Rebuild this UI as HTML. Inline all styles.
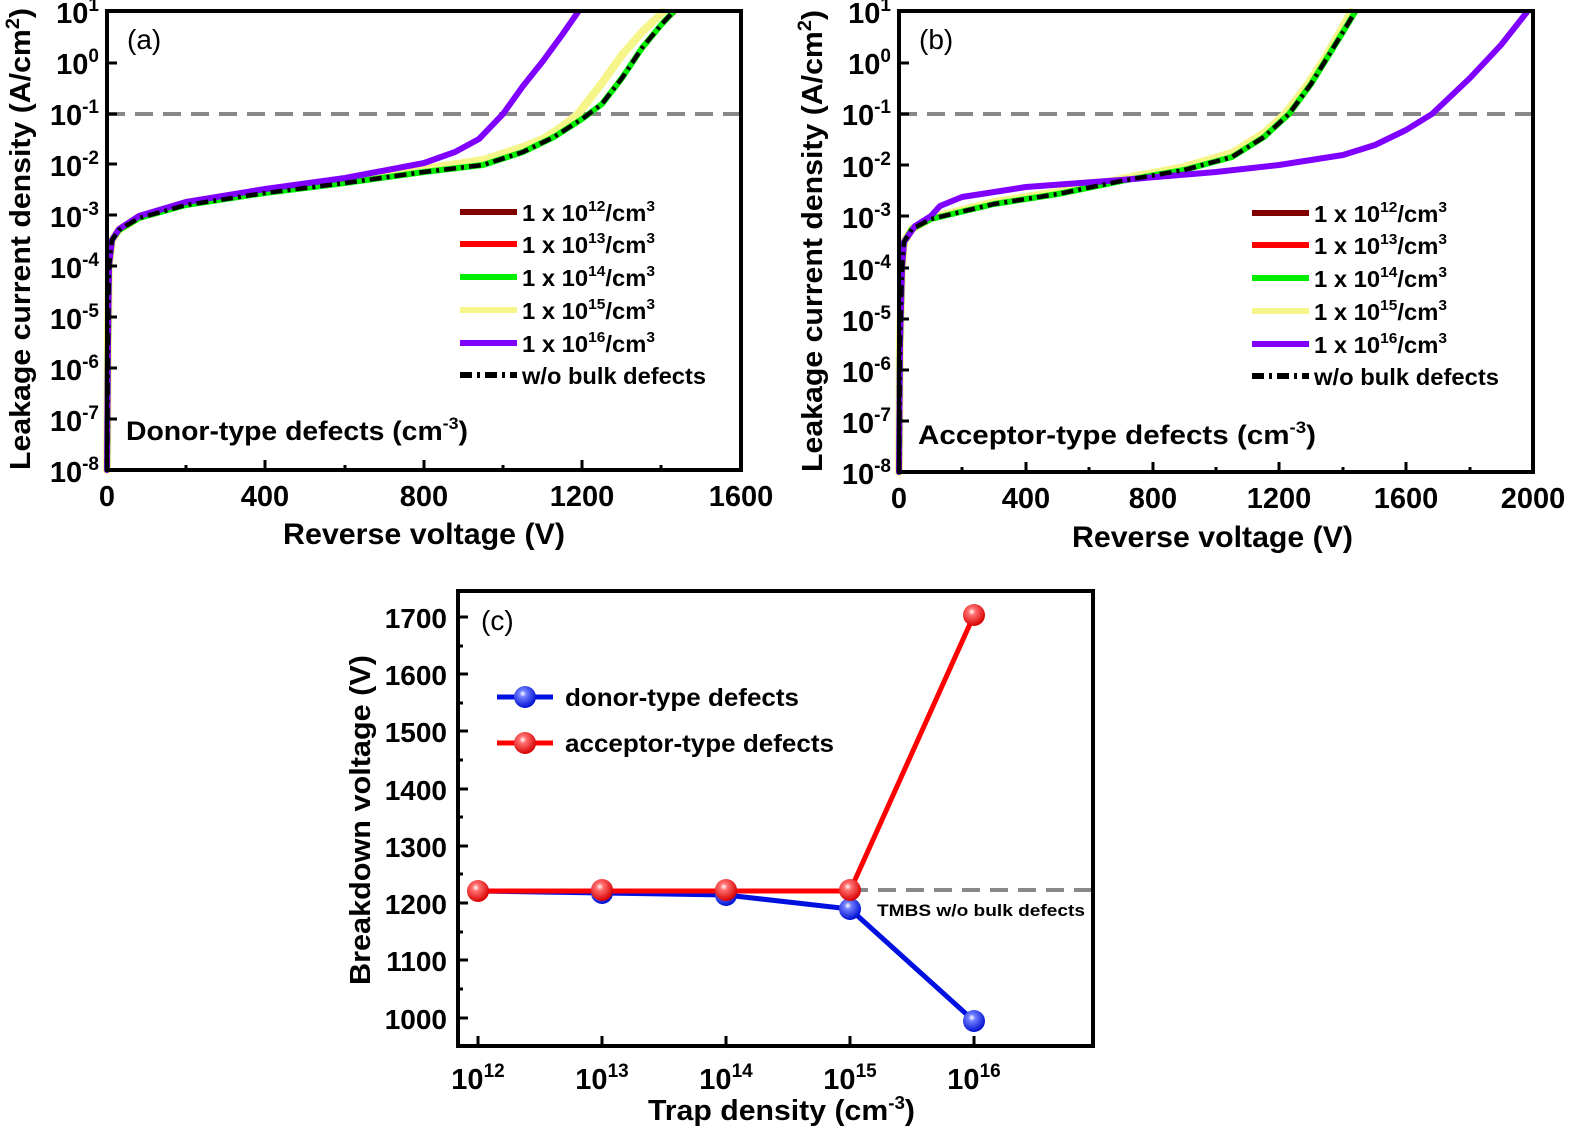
<!DOCTYPE html>
<html><head><meta charset="utf-8"><style>
body{margin:0;background:#fff}
svg{display:block;font-family:"Liberation Sans",Arial,sans-serif;font-weight:bold}
</style></head><body>
<svg width="1570" height="1128" viewBox="0 0 1570 1128" xmlns="http://www.w3.org/2000/svg">
<defs>
<radialGradient id="gb" cx="0.4" cy="0.35" r="0.65"><stop offset="0" stop-color="#fff"/><stop offset="0.25" stop-color="#6f7dff"/><stop offset="1" stop-color="#0010d0"/></radialGradient>
<radialGradient id="gr" cx="0.4" cy="0.35" r="0.65"><stop offset="0" stop-color="#fff"/><stop offset="0.25" stop-color="#ff7070"/><stop offset="1" stop-color="#d80000"/></radialGradient>
</defs>

<!-- Panel A -->
<line x1="107" y1="114" x2="741" y2="114" stroke="#888" stroke-width="4" stroke-dasharray="18,10"/>
<g fill="none" stroke-linejoin="round" stroke-linecap="round">
<polyline stroke="#f5f58a" stroke-width="8" points="107,470 108,342 109,266 112,240 119,230 139,217 186,203 265,191 345,180 424,169 483,160 523,147 543,139 560,128 578,114 602,83 622,55 642,32 663,12"/>
<polyline stroke="#800000" stroke-width="5" points="107,470 108,342 109,266 112,240 119,230 139,218 186,205 265,193 345,183 424,172 483,165 523,152 554,137 582,119 602,104 622,78 642,48 661,25 674,12"/>
<polyline stroke="#ff0000" stroke-width="5" points="107,470 108,342 109,266 112,240 119,230 139,218 186,205 265,193 345,183 424,172 483,165 523,152 554,137 582,119 602,104 622,78 642,48 661,25 674,12"/>
<polyline stroke="#00ee00" stroke-width="6" points="107,470 108,342 109,266 112,240 119,230 139,218 186,205 265,193 345,183 424,172 483,165 523,152 554,137 582,119 602,104 622,78 642,48 661,25 673,12"/>
<polyline stroke="#8000ff" stroke-width="6" points="107,470 108,342 109,266 112,240 119,229 139,216 186,202 265,189 345,178 424,163 455,152 479,139 503,114 523,86 543,61 562,35 578,12"/>
<polyline stroke="#000" stroke-width="4.5" stroke-linecap="butt" stroke-dasharray="12,5,3,5" points="107,470 108,342 109,266 112,240 119,230 139,218 186,205 265,193 345,183 424,172 483,165 523,152 554,137 582,119 602,104 622,78 642,48 661,25 673,12"/>
</g>
<rect x="107" y="11" width="634" height="459" fill="none" stroke="#000" stroke-width="4"/>
<g stroke="#000" stroke-width="3">
<line x1="265" y1="470" x2="265" y2="460"/><line x1="424" y1="470" x2="424" y2="460"/><line x1="582" y1="470" x2="582" y2="460"/>
<line x1="186" y1="470" x2="186" y2="465"/><line x1="345" y1="470" x2="345" y2="465"/><line x1="503" y1="470" x2="503" y2="465"/><line x1="661" y1="470" x2="661" y2="465"/>
<line x1="107" y1="63" x2="117" y2="63"/><line x1="107" y1="114" x2="117" y2="114"/><line x1="107" y1="164" x2="117" y2="164"/><line x1="107" y1="215" x2="117" y2="215"/><line x1="107" y1="266" x2="117" y2="266"/><line x1="107" y1="317" x2="117" y2="317"/><line x1="107" y1="368" x2="117" y2="368"/><line x1="107" y1="419" x2="117" y2="419"/>
</g>
<g font-size="29" text-anchor="end">
<text x="99" y="23">10<tspan font-size="19" dy="-12">1</tspan></text>
<text x="99" y="74">10<tspan font-size="19" dy="-12">0</tspan></text>
<text x="99" y="125">10<tspan font-size="19" dy="-12">-1</tspan></text>
<text x="99" y="176">10<tspan font-size="19" dy="-12">-2</tspan></text>
<text x="99" y="227">10<tspan font-size="19" dy="-12">-3</tspan></text>
<text x="99" y="278">10<tspan font-size="19" dy="-12">-4</tspan></text>
<text x="99" y="329">10<tspan font-size="19" dy="-12">-5</tspan></text>
<text x="99" y="380">10<tspan font-size="19" dy="-12">-6</tspan></text>
<text x="99" y="431">10<tspan font-size="19" dy="-12">-7</tspan></text>
<text x="99" y="482">10<tspan font-size="19" dy="-12">-8</tspan></text>
</g>
<g font-size="29" text-anchor="middle">
<text x="107" y="506">0</text><text x="265" y="506">400</text><text x="424" y="506">800</text><text x="582" y="506">1200</text><text x="741" y="506">1600</text>
</g>
<text x="283" y="544" font-size="30" textLength="282" lengthAdjust="spacingAndGlyphs">Reverse voltage (V)</text>
<text transform="translate(30,470) rotate(-90)" font-size="29" textLength="462" lengthAdjust="spacingAndGlyphs">Leakage current density (A/cm<tspan font-size="19" dy="-11">2</tspan><tspan dy="11">)</tspan></text>
<text x="127" y="49" font-size="28" font-weight="normal">(a)</text>
<text x="126" y="440" font-size="27" textLength="342" lengthAdjust="spacingAndGlyphs">Donor-type defects (cm<tspan font-size="17" dy="-11">-3</tspan><tspan dy="11">)</tspan></text>
<g stroke-width="6">
<line x1="460" y1="212" x2="517" y2="212" stroke="#800000"/>
<line x1="460" y1="244" x2="517" y2="244" stroke="#ff0000"/>
<line x1="460" y1="277" x2="517" y2="277" stroke="#00ee00"/>
<line x1="460" y1="310" x2="517" y2="310" stroke="#f5f58a"/>
<line x1="460" y1="343" x2="517" y2="343" stroke="#8000ff"/>
<line x1="460" y1="375" x2="517" y2="375" stroke="#000" stroke-dasharray="12,5,3,5"/>
</g>
<g font-size="23">
<text x="522" y="221" textLength="133" lengthAdjust="spacingAndGlyphs">1 x 10<tspan font-size="15" dy="-10">12</tspan><tspan dy="10">/cm</tspan><tspan font-size="15" dy="-10">3</tspan></text>
<text x="522" y="253" textLength="133" lengthAdjust="spacingAndGlyphs">1 x 10<tspan font-size="15" dy="-10">13</tspan><tspan dy="10">/cm</tspan><tspan font-size="15" dy="-10">3</tspan></text>
<text x="522" y="286" textLength="133" lengthAdjust="spacingAndGlyphs">1 x 10<tspan font-size="15" dy="-10">14</tspan><tspan dy="10">/cm</tspan><tspan font-size="15" dy="-10">3</tspan></text>
<text x="522" y="319" textLength="133" lengthAdjust="spacingAndGlyphs">1 x 10<tspan font-size="15" dy="-10">15</tspan><tspan dy="10">/cm</tspan><tspan font-size="15" dy="-10">3</tspan></text>
<text x="522" y="352" textLength="133" lengthAdjust="spacingAndGlyphs">1 x 10<tspan font-size="15" dy="-10">16</tspan><tspan dy="10">/cm</tspan><tspan font-size="15" dy="-10">3</tspan></text>
<text x="522" y="384" textLength="184" lengthAdjust="spacingAndGlyphs">w/o bulk defects</text>
</g>

<!-- Panel B -->
<line x1="899" y1="114" x2="1533" y2="114" stroke="#888" stroke-width="4" stroke-dasharray="18,10"/>
<g fill="none" stroke-linejoin="round" stroke-linecap="round">
<polyline stroke="#f5f58a" stroke-width="8" points="899,472 900,344 902,268 904,242 912,229 931,218 994,202 1058,192 1121,179 1184,167 1232,153 1264,133 1285,114 1308,84 1325,58 1340,32 1351,12"/>
<polyline stroke="#800000" stroke-width="5" points="899,472 900,344 902,268 904,242 912,229 931,219 994,204 1058,194 1121,181 1184,170 1232,157 1264,137 1289,114 1311,84 1327,58 1343,32 1355,12"/>
<polyline stroke="#ff0000" stroke-width="5" points="899,472 900,344 902,268 904,242 912,229 931,219 994,204 1058,194 1121,181 1184,170 1232,157 1264,137 1289,114 1311,84 1327,58 1343,32 1355,12"/>
<polyline stroke="#00ee00" stroke-width="6" points="899,472 900,344 902,268 904,242 912,229 931,219 994,204 1058,194 1121,181 1184,170 1232,157 1264,137 1289,114 1311,84 1327,58 1343,32 1355,12"/>
<polyline stroke="#8000ff" stroke-width="6" points="899,472 900,344 902,268 904,242 915,226 931,216 940,206 962,197 1026,187 1121,180 1216,172 1279,165 1343,155 1375,145 1406,130 1432,114 1470,78 1501,45 1527,12"/>
<polyline stroke="#000" stroke-width="4.5" stroke-linecap="butt" stroke-dasharray="12,5,3,5" points="899,472 900,344 902,268 904,242 912,229 931,219 994,204 1058,194 1121,181 1184,170 1232,157 1264,137 1289,114 1311,84 1327,58 1343,32 1355,12"/>
</g>
<rect x="899" y="11" width="634" height="461" fill="none" stroke="#000" stroke-width="4"/>
<g stroke="#000" stroke-width="3">
<line x1="1026" y1="472" x2="1026" y2="462"/><line x1="1153" y1="472" x2="1153" y2="462"/><line x1="1279" y1="472" x2="1279" y2="462"/><line x1="1406" y1="472" x2="1406" y2="462"/>
<line x1="962" y1="472" x2="962" y2="467"/><line x1="1089" y1="472" x2="1089" y2="467"/><line x1="1216" y1="472" x2="1216" y2="467"/><line x1="1343" y1="472" x2="1343" y2="467"/><line x1="1470" y1="472" x2="1470" y2="467"/>
<line x1="899" y1="63" x2="909" y2="63"/><line x1="899" y1="114" x2="909" y2="114"/><line x1="899" y1="165" x2="909" y2="165"/><line x1="899" y1="216" x2="909" y2="216"/><line x1="899" y1="268" x2="909" y2="268"/><line x1="899" y1="319" x2="909" y2="319"/><line x1="899" y1="370" x2="909" y2="370"/><line x1="899" y1="421" x2="909" y2="421"/>
</g>
<g font-size="29" text-anchor="end">
<text x="891" y="23">10<tspan font-size="19" dy="-12">1</tspan></text>
<text x="891" y="74">10<tspan font-size="19" dy="-12">0</tspan></text>
<text x="891" y="125">10<tspan font-size="19" dy="-12">-1</tspan></text>
<text x="891" y="177">10<tspan font-size="19" dy="-12">-2</tspan></text>
<text x="891" y="228">10<tspan font-size="19" dy="-12">-3</tspan></text>
<text x="891" y="280">10<tspan font-size="19" dy="-12">-4</tspan></text>
<text x="891" y="331">10<tspan font-size="19" dy="-12">-5</tspan></text>
<text x="891" y="382">10<tspan font-size="19" dy="-12">-6</tspan></text>
<text x="891" y="433">10<tspan font-size="19" dy="-12">-7</tspan></text>
<text x="891" y="484">10<tspan font-size="19" dy="-12">-8</tspan></text>
</g>
<g font-size="29" text-anchor="middle">
<text x="899" y="508">0</text><text x="1026" y="508">400</text><text x="1153" y="508">800</text><text x="1279" y="508">1200</text><text x="1406" y="508">1600</text><text x="1533" y="508">2000</text>
</g>
<text x="1072" y="547" font-size="30" textLength="281" lengthAdjust="spacingAndGlyphs">Reverse voltage (V)</text>
<text transform="translate(822,472) rotate(-90)" font-size="29" textLength="462" lengthAdjust="spacingAndGlyphs">Leakage current density (A/cm<tspan font-size="19" dy="-11">2</tspan><tspan dy="11">)</tspan></text>
<text x="919" y="49" font-size="28" font-weight="normal">(b)</text>
<text x="918" y="444" font-size="27" textLength="398" lengthAdjust="spacingAndGlyphs">Acceptor-type defects (cm<tspan font-size="17" dy="-11">-3</tspan><tspan dy="11">)</tspan></text>
<g stroke-width="6">
<line x1="1252" y1="213" x2="1309" y2="213" stroke="#800000"/>
<line x1="1252" y1="245" x2="1309" y2="245" stroke="#ff0000"/>
<line x1="1252" y1="278" x2="1309" y2="278" stroke="#00ee00"/>
<line x1="1252" y1="311" x2="1309" y2="311" stroke="#f5f58a"/>
<line x1="1252" y1="344" x2="1309" y2="344" stroke="#8000ff"/>
<line x1="1252" y1="376" x2="1309" y2="376" stroke="#000" stroke-dasharray="12,5,3,5"/>
</g>
<g font-size="23">
<text x="1314" y="222" textLength="133" lengthAdjust="spacingAndGlyphs">1 x 10<tspan font-size="15" dy="-10">12</tspan><tspan dy="10">/cm</tspan><tspan font-size="15" dy="-10">3</tspan></text>
<text x="1314" y="254" textLength="133" lengthAdjust="spacingAndGlyphs">1 x 10<tspan font-size="15" dy="-10">13</tspan><tspan dy="10">/cm</tspan><tspan font-size="15" dy="-10">3</tspan></text>
<text x="1314" y="287" textLength="133" lengthAdjust="spacingAndGlyphs">1 x 10<tspan font-size="15" dy="-10">14</tspan><tspan dy="10">/cm</tspan><tspan font-size="15" dy="-10">3</tspan></text>
<text x="1314" y="320" textLength="133" lengthAdjust="spacingAndGlyphs">1 x 10<tspan font-size="15" dy="-10">15</tspan><tspan dy="10">/cm</tspan><tspan font-size="15" dy="-10">3</tspan></text>
<text x="1314" y="353" textLength="133" lengthAdjust="spacingAndGlyphs">1 x 10<tspan font-size="15" dy="-10">16</tspan><tspan dy="10">/cm</tspan><tspan font-size="15" dy="-10">3</tspan></text>
<text x="1314" y="385" textLength="185" lengthAdjust="spacingAndGlyphs">w/o bulk defects</text>
</g>

<!-- Panel C -->
<line x1="850" y1="890" x2="1093" y2="890" stroke="#888" stroke-width="4" stroke-dasharray="18,10"/>
<polyline fill="none" stroke="#0010e0" stroke-width="5" points="478,891 602,893 726,895 850,909 974,1021"/>
<polyline fill="none" stroke="#ff0000" stroke-width="5" points="478,891 602,891 726,891 850,891 974,615"/>
<g fill="url(#gb)">
<circle cx="602" cy="893" r="11"/><circle cx="726" cy="895" r="11"/><circle cx="850" cy="909" r="11"/><circle cx="974" cy="1021" r="11"/>
</g>
<g fill="url(#gr)">
<circle cx="478" cy="891" r="11"/><circle cx="602" cy="890" r="11"/><circle cx="726" cy="890" r="11"/><circle cx="850" cy="890" r="11"/><circle cx="974" cy="615" r="11"/>
</g>
<rect x="458" y="591" width="635" height="455" fill="none" stroke="#000" stroke-width="4"/>
<g stroke="#000" stroke-width="3">
<line x1="458" y1="617" x2="468" y2="617"/><line x1="458" y1="674" x2="468" y2="674"/><line x1="458" y1="731" x2="468" y2="731"/><line x1="458" y1="789" x2="468" y2="789"/><line x1="458" y1="846" x2="468" y2="846"/><line x1="458" y1="903" x2="468" y2="903"/><line x1="458" y1="960" x2="468" y2="960"/><line x1="458" y1="1018" x2="468" y2="1018"/>
<line x1="458" y1="646" x2="463" y2="646"/><line x1="458" y1="703" x2="463" y2="703"/><line x1="458" y1="760" x2="463" y2="760"/><line x1="458" y1="817" x2="463" y2="817"/><line x1="458" y1="874" x2="463" y2="874"/><line x1="458" y1="932" x2="463" y2="932"/><line x1="458" y1="989" x2="463" y2="989"/>
<line x1="478" y1="1046" x2="478" y2="1036"/><line x1="602" y1="1046" x2="602" y2="1036"/><line x1="726" y1="1046" x2="726" y2="1036"/><line x1="850" y1="1046" x2="850" y2="1036"/><line x1="974" y1="1046" x2="974" y2="1036"/>
</g>
<g font-size="28" text-anchor="end">
<text x="447" y="628">1700</text><text x="447" y="685">1600</text><text x="447" y="742">1500</text><text x="447" y="800">1400</text><text x="447" y="857">1300</text><text x="447" y="914">1200</text><text x="447" y="971">1100</text><text x="447" y="1029">1000</text>
</g>
<g font-size="29" text-anchor="middle">
<text x="478" y="1089">10<tspan font-size="19" dy="-12">12</tspan></text>
<text x="602" y="1089">10<tspan font-size="19" dy="-12">13</tspan></text>
<text x="726" y="1089">10<tspan font-size="19" dy="-12">14</tspan></text>
<text x="850" y="1089">10<tspan font-size="19" dy="-12">15</tspan></text>
<text x="974" y="1089">10<tspan font-size="19" dy="-12">16</tspan></text>
</g>
<text x="648" y="1120" font-size="29" textLength="267" lengthAdjust="spacingAndGlyphs">Trap density (cm<tspan font-size="18" dy="-11">-3</tspan><tspan dy="11">)</tspan></text>
<text transform="translate(370,985) rotate(-90)" font-size="29" textLength="330" lengthAdjust="spacingAndGlyphs">Breakdown voltage  (V)</text>
<text x="481" y="630" font-size="28" font-weight="normal">(c)</text>
<text x="877" y="916" font-size="17" textLength="208" lengthAdjust="spacingAndGlyphs">TMBS w/o bulk defects</text>
<line x1="497" y1="697" x2="553" y2="697" stroke="#0010e0" stroke-width="5"/>
<circle cx="525" cy="697" r="11" fill="url(#gb)"/>
<line x1="497" y1="743" x2="553" y2="743" stroke="#ff0000" stroke-width="5"/>
<circle cx="525" cy="743" r="11" fill="url(#gr)"/>
<text x="565" y="706" font-size="25" textLength="234" lengthAdjust="spacingAndGlyphs">donor-type defects</text>
<text x="565" y="752" font-size="25" textLength="269" lengthAdjust="spacingAndGlyphs">acceptor-type defects</text>
</svg>
</body></html>
